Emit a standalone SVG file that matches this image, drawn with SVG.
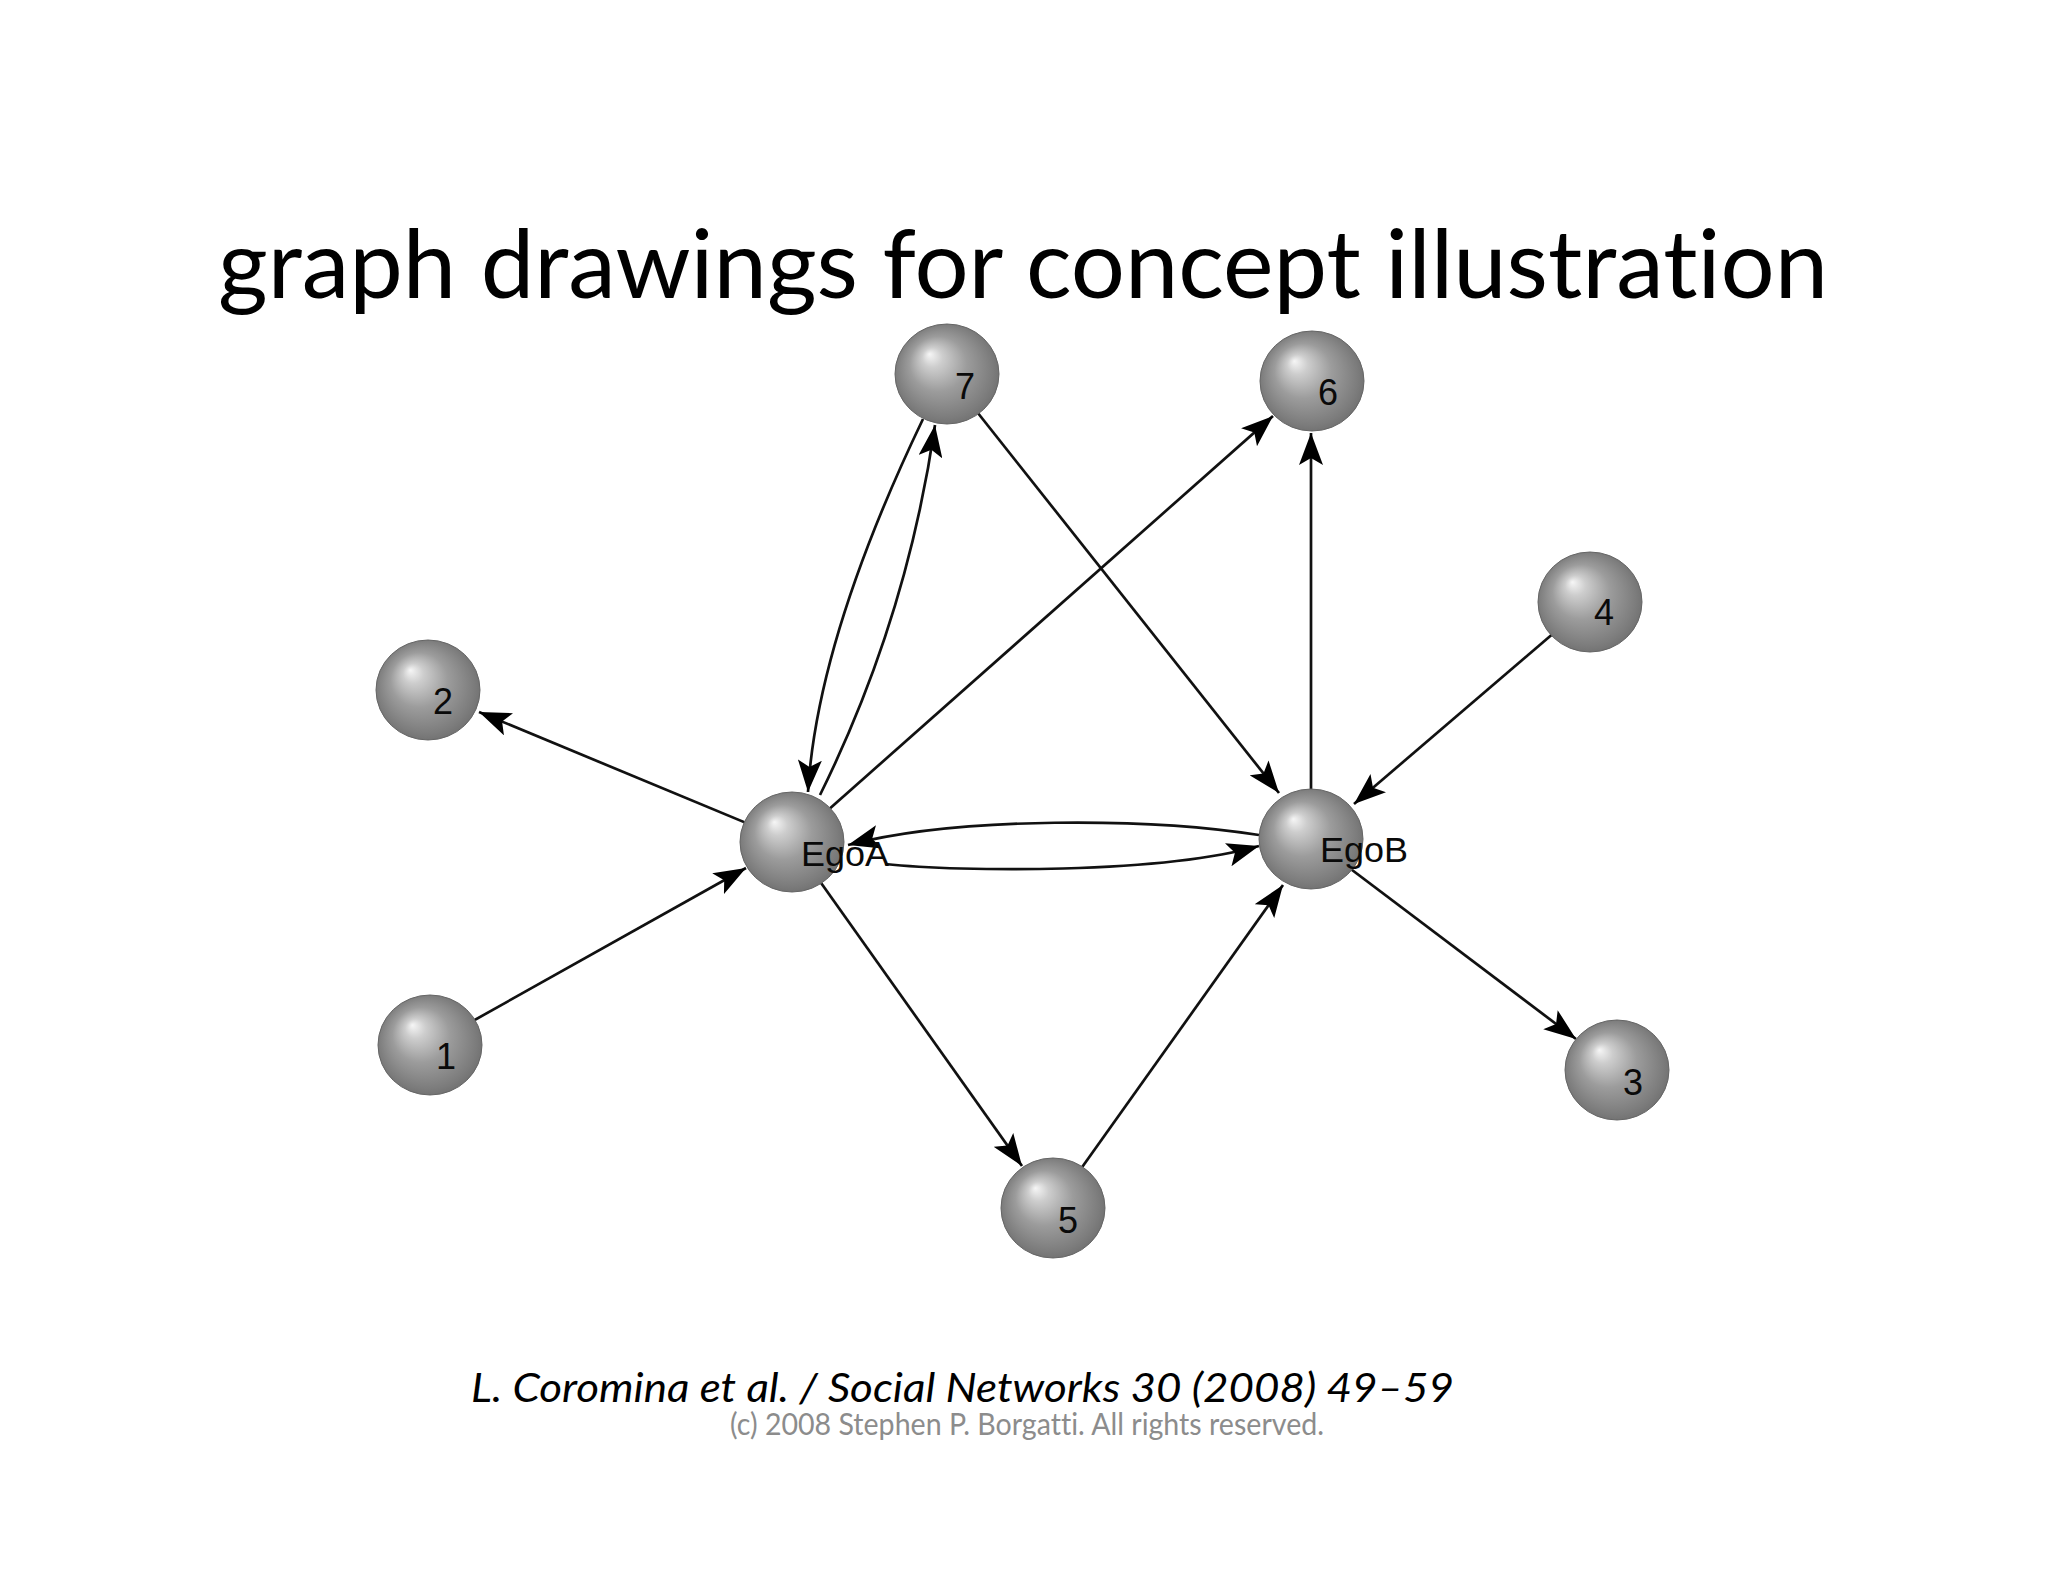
<svg xmlns="http://www.w3.org/2000/svg" width="2048" height="1582" viewBox="0 0 2048 1582">
<style>
.edge{fill:none;stroke:#111;stroke-width:2.7;marker-end:url(#arr)}
.ball{fill:url(#sph);stroke:#666;stroke-width:1}
.num{font-family:"Liberation Sans",Arial,sans-serif;font-size:36px;fill:#0a0a0a;text-anchor:middle}
.ego{font-family:"Liberation Sans",Arial,sans-serif;font-size:35px;fill:#0a0a0a}
.lato{font-family:Lato,"Open Sans",sans-serif;font-variant-ligatures:none;font-feature-settings:"liga" 0,"clig" 0}
</style>
<defs>
<radialGradient id="sph" cx="0.5" cy="0.5" r="0.55" fx="0.33" fy="0.3">
<stop offset="0" stop-color="#f6f6f6"/>
<stop offset="0.18" stop-color="#cdcdcd"/>
<stop offset="0.5" stop-color="#9c9c9c"/>
<stop offset="0.85" stop-color="#7c7c7c"/>
<stop offset="1" stop-color="#6c6c6c"/>
</radialGradient>
<marker id="arr" markerUnits="userSpaceOnUse" viewBox="0 0 32 24" markerWidth="32" markerHeight="24" refX="32" refY="12" orient="auto">
<path d="M0,0 L32,12 L0,24 L7,12 Z" fill="#000"/>
</marker>
</defs>
<rect width="2048" height="1582" fill="#fff"/>
<text class="lato" x="218" y="298" font-size="95" fill="#000" textLength="1610" lengthAdjust="spacingAndGlyphs">graph drawings for concept illustration</text>
<g id="connectors">
<line class="edge" x1="792" y1="842" x2="479" y2="712"/>
<line class="edge" x1="430" y1="1045" x2="746" y2="868"/>
<line class="edge" x1="792" y1="842" x2="1022" y2="1166"/>
<line class="edge" x1="1053" y1="1208" x2="1283" y2="885"/>
<line class="edge" x1="1311" y1="839" x2="1576" y2="1039"/>
<line class="edge" x1="1590" y1="602" x2="1354" y2="804"/>
<line class="edge" x1="1311" y1="839" x2="1311" y2="433"/>
<line class="edge" x1="792" y1="842" x2="1273" y2="416"/>
<line class="edge" x1="947" y1="374" x2="1279" y2="793"/>
<path class="edge" d="M923,419 Q817,640 808,792"/>
<path class="edge" d="M820,795 Q907,619 935,425"/>
<path class="edge" d="M1259,835 C1150,818 960,816 848,845"/>
<path class="edge" d="M885,864 C960,872 1160,874 1259,846"/>
</g>
<g id="node-7"><ellipse class="ball" cx="947" cy="374" rx="52" ry="50"/><text class="num" x="965" y="399">7</text></g>
<g id="node-6"><ellipse class="ball" cx="1312" cy="381" rx="52" ry="50"/><text class="num" x="1328" y="405">6</text></g>
<g id="node-4"><ellipse class="ball" cx="1590" cy="602" rx="52" ry="50"/><text class="num" x="1604" y="625">4</text></g>
<g id="node-2"><ellipse class="ball" cx="428" cy="690" rx="52" ry="50"/><text class="num" x="443" y="714">2</text></g>
<g id="node-1"><ellipse class="ball" cx="430" cy="1045" rx="52" ry="50"/><text class="num" x="446" y="1069">1</text></g>
<g id="node-3"><ellipse class="ball" cx="1617" cy="1070" rx="52" ry="50"/><text class="num" x="1633" y="1095">3</text></g>
<g id="node-5"><ellipse class="ball" cx="1053" cy="1208" rx="52" ry="50"/><text class="num" x="1068" y="1233">5</text></g>
<g id="node-EgoA"><ellipse class="ball" cx="792" cy="842" rx="52" ry="50"/><text class="ego" x="801" y="866" textLength="88" lengthAdjust="spacingAndGlyphs">EgoA</text></g>
<g id="node-EgoB"><ellipse class="ball" cx="1311" cy="839" rx="52" ry="50"/><text class="ego" x="1320" y="862" textLength="88" lengthAdjust="spacingAndGlyphs">EgoB</text></g>
<text class="lato" x="471" y="1402" font-style="italic" font-size="41" fill="#000" textLength="983" lengthAdjust="spacingAndGlyphs">L. Coromina et al. / Social Networks 30 (2008) 49–59</text>
<text class="lato" x="730" y="1435" font-size="30" fill="#8c8c8c" textLength="594" lengthAdjust="spacingAndGlyphs">(c) 2008 Stephen P. Borgatti. All rights reserved.</text>
</svg>
